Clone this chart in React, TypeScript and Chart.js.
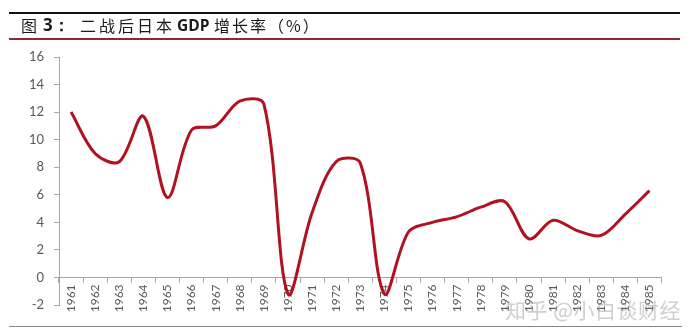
import React, { useEffect, useRef } from "react";
import { Chart, registerables } from "chart.js";

Chart.register(...registerables);

const years = [
  "1961", "1962", "1963", "1964", "1965", "1966", "1967", "1968", "1969", "1970",
  "1971", "1972", "1973", "1974", "1975", "1976", "1977", "1978", "1979", "1980",
  "1981", "1982", "1983", "1984", "1985",
];
const gdpGrowth = [
  12.0, 9.0, 8.4, 11.7, 5.8, 10.7, 11.0, 12.8, 12.6, -1.2,
  4.7, 8.4, 8.3, -1.2, 3.3, 4.0, 4.4, 5.1, 5.5, 2.8,
  4.15, 3.4, 3.05, 4.6, 6.3,
];
const yMin = -2;
const yMax = 16;
const yStep = 2;

const titlePrefix = "图";
const titleNum = "3：";
const titleA = "二战后日本";
const titleB = "GDP";
const titleC = "增长率（%）";
const watermark = "知乎 @小白谈财经";

const AXIS = "#A6A6A6";
const TICK_TEXT = "#595959";
const LINE = "#B0121F";

export default function App() {
  const ref = useRef<HTMLCanvasElement | null>(null);

  useEffect(() => {
    if (!ref.current) return;
    const chart = new Chart(ref.current, {
      type: "line",
      data: {
        labels: years,
        datasets: [
          {
            data: gdpGrowth,
            borderColor: LINE,
            borderWidth: 3,
            pointRadius: 0,
            tension: 0.33,
            fill: false,
          },
        ],
      },
      options: {
        animation: false,
        responsive: false,
        maintainAspectRatio: false,
        layout: { padding: { left: 0, right: 30.5, top: 57, bottom: 30 } },
        plugins: { legend: { display: false }, tooltip: { enabled: false } },
        scales: {
          x: {
            type: "category",
            position: { y: 0 } as any,
            offset: true,
            grid: {
              offset: true,
              drawOnChartArea: false,
              drawTicks: true,
              tickLength: 5,
              color: AXIS,
            },
            border: { display: true, color: AXIS, width: 1 },
            ticks: {
              autoSkip: false,
              minRotation: 90,
              maxRotation: 90,
              padding: 2,
              color: TICK_TEXT,
              font: { family: "Lato, 'Open Sans', sans-serif", size: 12 },
            },
          },
          y: {
            min: yMin,
            max: yMax,
            afterFit: (s: any) => {
              s.width = 59;
            },
            grid: {
              drawOnChartArea: false,
              drawTicks: true,
              tickLength: 5,
              color: AXIS,
            },
            border: { display: true, color: AXIS, width: 1 },
            ticks: {
              stepSize: yStep,
              padding: 10,
              color: TICK_TEXT,
              font: { family: "Lato, 'Open Sans', sans-serif", size: 13 },
            },
          },
        },
      },
    });
    return () => chart.destroy();
  }, []);

  const cjk = "'Noto Sans CJK SC', sans-serif";
  const base: React.CSSProperties = {
    position: "absolute",
    top: 14,
    fontFamily: cjk,
    fontSize: 16,
    lineHeight: "22px",
    color: "#1a1a1a",
    whiteSpace: "nowrap",
  };

  return (
    <div
      style={{
        position: "fixed",
        left: 0,
        top: 0,
        width: 692,
        height: 335,
        background: "#fff",
        overflow: "hidden",
      }}
    >
      <canvas
        ref={ref}
        width={692}
        height={335}
        style={{ position: "absolute", left: 0, top: 0, width: 692, height: 335 }}
      />
      <div style={{ position: "absolute", left: 9, top: 12, width: 671, height: 1.5, background: "#111" }} />
      <div style={{ position: "absolute", left: 9, top: 38, width: 671, height: 2, background: "#8E2A2F" }} />
      <div style={{ position: "absolute", left: 9, top: 326, width: 673, height: 1, background: "#888" }} />
      <span style={{ ...base, left: 21, fontSize: 16 }}>{titlePrefix}</span>
      <span style={{ ...base, left: 43, fontWeight: 700, fontFamily: "'Open Sans', sans-serif", fontSize: 17 }}>{titleNum}</span>
      <span style={{ ...base, left: 80, letterSpacing: 3 }}>{titleA}</span>
      <span style={{ ...base, left: 177, top: 14, fontWeight: 700, fontFamily: "'Open Sans', sans-serif", fontSize: 15.5 }}>{titleB}</span>
      <span style={{ ...base, left: 214, letterSpacing: 2 }}>{titleC}</span>
      <span
        style={{
          position: "absolute",
          left: 505,
          top: 294,
          fontFamily: cjk,
          fontSize: 21,
          lineHeight: "30px",
          color: "rgba(160,160,160,0.5)",
          whiteSpace: "nowrap",
          letterSpacing: 0.5,
        }}
      >
        {watermark}
      </span>
    </div>
  );
}
